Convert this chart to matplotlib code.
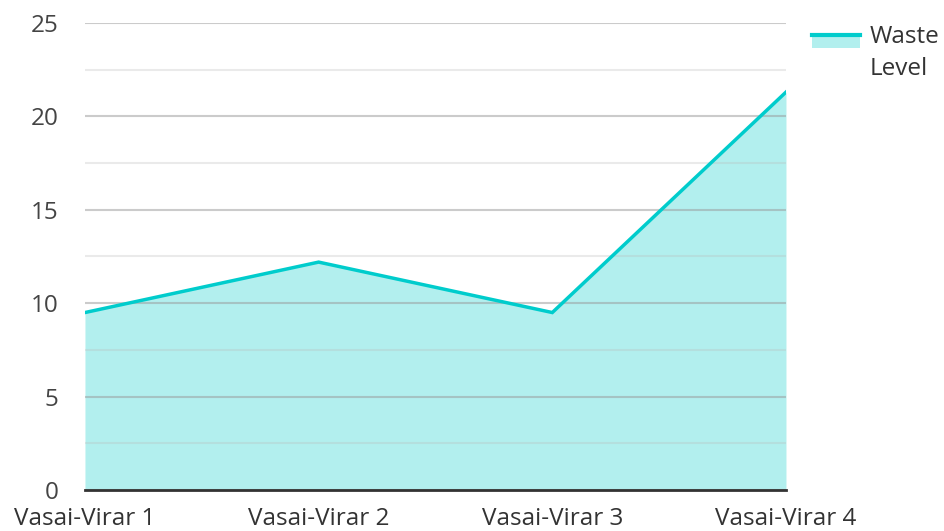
import matplotlib
matplotlib.use("Agg")
import matplotlib.pyplot as plt
from matplotlib.patches import Rectangle
from matplotlib.lines import Line2D
from matplotlib.ticker import MultipleLocator

plt.rcParams['font.family'] = ['Open Sans', 'DejaVu Sans']

# data
locations = ['Vasai-Virar 1', 'Vasai-Virar 2', 'Vasai-Virar 3', 'Vasai-Virar 4']
waste_level = [9.5, 12.2, 9.5, 21.3]

line_color = '#00cccc'
fill_color = '#b2efee'

fig = plt.figure(figsize=(9.44, 5.31), dpi=100)
ax = fig.add_axes([0.090, 0.0772, 0.7426, 0.8795])

x = list(range(len(locations)))
ax.fill_between(x, 0, waste_level, color=fill_color, linewidth=0, zorder=1)
ax.plot(x, waste_level, color=line_color, linewidth=2.5, zorder=3,
        solid_joinstyle='miter')

ax.set_xlim(0, len(locations) - 1)
ax.set_ylim(0, 25)
ax.yaxis.set_major_locator(MultipleLocator(5))
ax.yaxis.set_minor_locator(MultipleLocator(2.5))
ax.set_xticks(x)
ax.set_xticklabels(locations)

# grid sits over the fill, semi transparent
ax.grid(True, axis='y', which='major', color='#999999', alpha=0.5, linewidth=1.5, zorder=2)
ax.grid(True, axis='y', which='minor', color='#bbbbbb', alpha=0.3, linewidth=1.5, zorder=2)
ax.grid(False, axis='x')
ax.set_axisbelow(False)

for s in ['top', 'right', 'left']:
    ax.spines[s].set_visible(False)
ax.spines['bottom'].set_color('#333333')
ax.spines['bottom'].set_linewidth(2)
ax.spines['bottom'].set_zorder(4)

ax.tick_params(axis='y', which='both', length=0, pad=19, labelsize=17.5, labelcolor='#444444')
ax.tick_params(axis='x', length=0, pad=12, labelsize=17.5, labelcolor='#333333')

# legend drawn by hand: line over a fill swatch
W, H = 944, 531
fig.patches.append(Rectangle((812 / W, 1 - 48 / H), 48 / W, 13 / H,
                             transform=fig.transFigure, color=fill_color, linewidth=0))
fig.lines.append(Line2D([812 / W, 860 / W], [1 - 35 / H, 1 - 35 / H],
                        transform=fig.transFigure, color=line_color, linewidth=3))
fig.text(870 / W, 1 - 53 / H, 'Waste\nLevel', fontsize=17.5, color='#333333',
         va='center', ha='left', linespacing=1.45)

fig.savefig('out.png', dpi=100)
